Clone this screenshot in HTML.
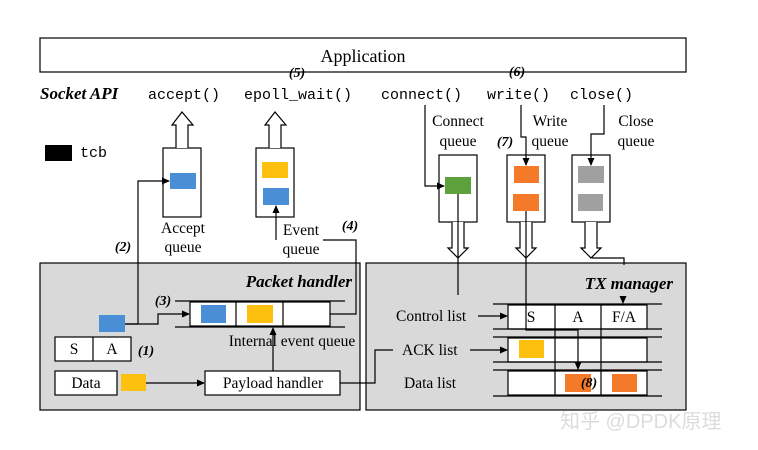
<!DOCTYPE html>
<html><head><meta charset="utf-8"><style>
html,body{margin:0;padding:0;background:#fff;}
svg{display:block;}
text{font-family:"Liberation Serif",serif;font-size:15.5px;fill:#000;}
.m{font-family:"Liberation Mono",monospace;font-size:15px;}
.bi{font-weight:bold;font-style:italic;}
</style></head><body>
<svg width="758" height="450" viewBox="0 0 758 450" xmlns="http://www.w3.org/2000/svg">
<defs><marker id="a" markerWidth="8" markerHeight="8" refX="7" refY="4" orient="auto" markerUnits="userSpaceOnUse"><path d="M0,0.5 L8,4 L0,7.5Z" fill="#000"/></marker></defs>
<g stroke="#000" stroke-width="1.2" fill="none">
<rect x="40" y="38" width="646" height="34" fill="#fff"/>
<rect x="40" y="263" width="320" height="147" fill="#d9d9d9"/>
<rect x="366" y="263" width="320" height="147" fill="#d9d9d9"/>
<rect x="163" y="148" width="38" height="69" fill="#fff"/>
<rect x="256" y="148" width="38" height="69" fill="#fff"/>
<rect x="439" y="155" width="38" height="67" fill="#fff"/>
<rect x="507" y="155" width="38" height="67" fill="#fff"/>
<rect x="572" y="155" width="38" height="67" fill="#fff"/>
<path d="M176,148 V125 H172 L182,112 L193,125 H188 V148" fill="#fff"/>
<path d="M269,148 V125 H265 L275,112 L286,125 H281 V148" fill="#fff"/>
<path d="M452,222 V248 H448 L458,258 L468,248 H464 V222" fill="#fff"/>
<path d="M520,222 V248 H516 L526,258 L536,248 H532 V222" fill="#fff"/>
<path d="M585,222 V248 H581 L591,258 L601,248 H597 V222" fill="#fff"/>
<rect x="55" y="337" width="76" height="24" fill="#fff"/><line x1="93" y1="337" x2="93" y2="361"/>
<rect x="55" y="371" width="62" height="24" fill="#fff"/>
<rect x="205" y="371" width="135" height="24" fill="#fff"/>
<rect x="190" y="302" width="140" height="24" fill="#fff"/>
<line x1="236" y1="302" x2="236" y2="326"/><line x1="283" y1="302" x2="283" y2="326"/>
<line x1="175" y1="301" x2="345" y2="301"/><line x1="175" y1="327" x2="345" y2="327"/>
<rect x="508" y="305" width="139" height="24" fill="#fff"/>
<rect x="508" y="338" width="139" height="24" fill="#fff"/>
<rect x="508" y="371" width="139" height="24" fill="#fff"/>
<line x1="555" y1="305" x2="555" y2="395"/><line x1="601" y1="305" x2="601" y2="395"/>
<line x1="493" y1="304" x2="662" y2="304"/><line x1="493" y1="329" x2="662" y2="329"/>
<line x1="493" y1="337" x2="662" y2="337"/><line x1="493" y1="362" x2="662" y2="362"/>
<line x1="493" y1="370" x2="662" y2="370"/><line x1="493" y1="396" x2="662" y2="396"/>
<polyline points="125,324 138,324 138,181 169,181" marker-end="url(#a)"/>
<polyline points="125,324 158,324 158,314 189,314" marker-end="url(#a)"/>
<polyline points="330,314 356,314 356,240 323,240"/>
<polyline points="276,240 276,206" marker-end="url(#a)"/>
<polyline points="146,383 204,383" marker-end="url(#a)"/>
<polyline points="273,371 273,328" marker-end="url(#a)"/>
<polyline points="340,383 375,383 375,350 393,350"/>
<polyline points="470,350 507,350" marker-end="url(#a)"/>
<polyline points="478,316 507,316" marker-end="url(#a)"/>
<polyline points="425,105 425,186 444,186" marker-end="url(#a)"/>
<polyline points="521,105 521,137 526,137 526,165" marker-end="url(#a)"/>
<polyline points="604,105 604,134 591,134 591,165" marker-end="url(#a)"/>
<polyline points="458,194 458,295"/>
<polyline points="526,211 526,330 578,330 578,369" marker-end="url(#a)"/>
<polyline points="592,258 624,258 624,265"/>
<polyline points="623,296 623,303" marker-end="url(#a)"/>
</g>
<rect x="45" y="145" width="27" height="16" fill="#000"/>
<rect x="170" y="173" width="26" height="16" fill="#4a8fd6"/>
<rect x="262" y="162" width="26" height="16" fill="#fdc00f"/>
<rect x="263" y="188" width="26" height="17" fill="#4a8fd6"/>
<rect x="99" y="315" width="26" height="17" fill="#4a8fd6"/>
<rect x="201" y="305" width="25" height="18" fill="#4a8fd6"/>
<rect x="247" y="305" width="26" height="18" fill="#fdc00f"/>
<rect x="121" y="374" width="25" height="17" fill="#fdc00f"/>
<rect x="445" y="177" width="26" height="17" fill="#5da13d"/>
<rect x="514" y="166" width="25" height="17" fill="#f47a2a"/>
<rect x="513" y="194" width="26" height="17" fill="#f47a2a"/>
<rect x="578" y="166" width="26" height="17" fill="#a0a0a0"/>
<rect x="578" y="194" width="25" height="17" fill="#a0a0a0"/>
<rect x="519" y="340" width="25" height="18" fill="#fdc00f"/>
<rect x="565" y="374" width="26" height="18" fill="#f47a2a"/>
<rect x="612" y="374" width="25" height="18" fill="#f47a2a"/>
<text x="363" y="62" text-anchor="middle" style="font-size:18px">Application</text>
<text x="40" y="99" class="bi" style="font-size:17px">Socket API</text>
<text x="148" y="99" class="m">accept()</text>
<text x="244" y="99" class="m">epoll_wait()</text>
<text x="381" y="99" class="m">connect()</text>
<text x="487" y="99" class="m">write()</text>
<text x="570" y="99" class="m">close()</text>
<text x="297" y="77" class="bi" text-anchor="middle" style="font-size:14px">(5)</text>
<text x="517" y="76" class="bi" text-anchor="middle" style="font-size:14px">(6)</text>
<text x="80" y="157" class="m">tcb</text>
<text x="183" y="233" text-anchor="middle">Accept</text>
<text x="183" y="252" text-anchor="middle">queue</text>
<text x="301" y="235" text-anchor="middle">Event</text>
<text x="301" y="254" text-anchor="middle">queue</text>
<text x="350" y="230" class="bi" text-anchor="middle" style="font-size:14px">(4)</text>
<text x="123" y="251" class="bi" text-anchor="middle" style="font-size:14px">(2)</text>
<text x="163" y="305" class="bi" text-anchor="middle" style="font-size:14px">(3)</text>
<text x="146" y="355" class="bi" text-anchor="middle" style="font-size:14px">(1)</text>
<text x="352" y="287" class="bi" text-anchor="end" style="font-size:17px">Packet handler</text>
<text x="74" y="354" text-anchor="middle">S</text>
<text x="112" y="354" text-anchor="middle">A</text>
<text x="86" y="388" text-anchor="middle">Data</text>
<text x="273" y="388" text-anchor="middle">Payload handler</text>
<text x="292" y="346" text-anchor="middle">Internal event queue</text>
<text x="458" y="126" text-anchor="middle">Connect</text>
<text x="458" y="146" text-anchor="middle">queue</text>
<text x="550" y="126" text-anchor="middle">Write</text>
<text x="550" y="146" text-anchor="middle">queue</text>
<text x="636" y="126" text-anchor="middle">Close</text>
<text x="636" y="146" text-anchor="middle">queue</text>
<text x="505" y="146" class="bi" text-anchor="middle" style="font-size:14px">(7)</text>
<text x="673" y="289" class="bi" text-anchor="end" style="font-size:17px">TX manager</text>
<text x="396" y="321">Control list</text>
<text x="402" y="355">ACK list</text>
<text x="404" y="388">Data list</text>
<text x="531" y="322" text-anchor="middle">S</text>
<text x="578" y="322" text-anchor="middle">A</text>
<text x="624" y="322" text-anchor="middle">F/A</text>
<text x="589" y="387" class="bi" text-anchor="middle" style="font-size:14px">(8)</text>
<text x="560" y="428" style="font-family:'Liberation Sans','Noto Sans CJK SC',sans-serif;font-size:20px;fill:#dcdcdc">知乎 @DPDK原理</text>
</svg>
</body></html>
